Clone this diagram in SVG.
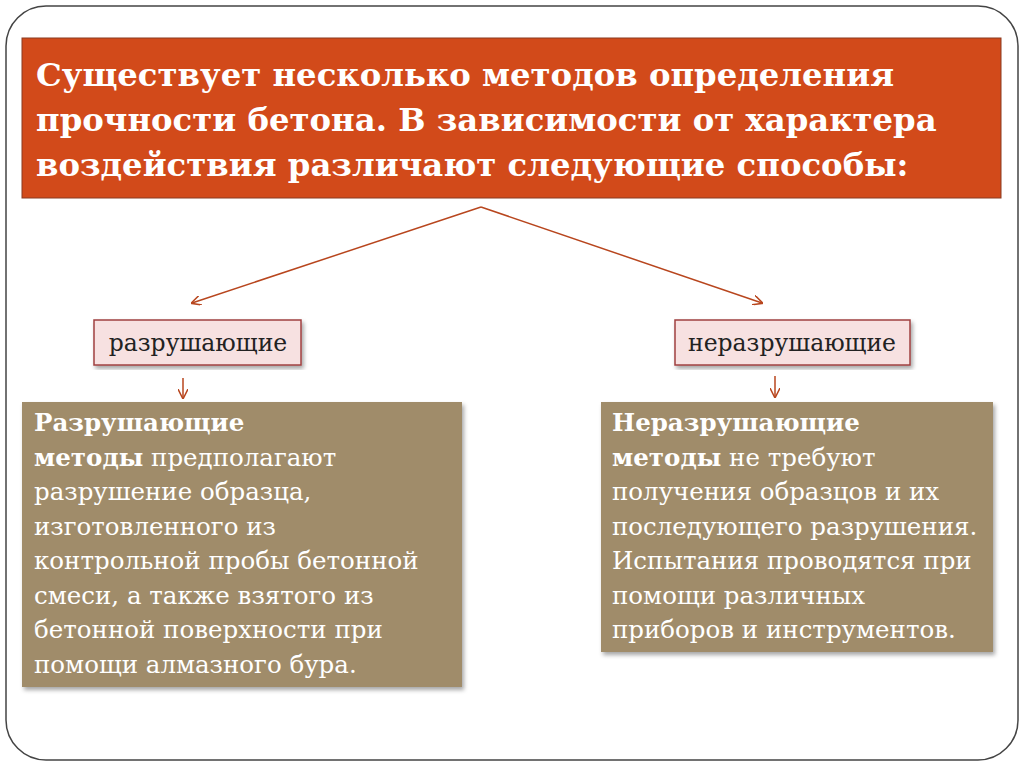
<svg xmlns="http://www.w3.org/2000/svg" width="1024" height="767" viewBox="0 0 1024 767">
<defs>
<style>
.h{font-family:"DejaVu Serif","Liberation Serif",serif;font-weight:bold;fill:#fff;font-size:32.3px}
.lbl{font-family:"DejaVu Serif","Liberation Serif",serif;font-size:23.5px;fill:#222}
.bt{font-family:"DejaVu Serif","Liberation Serif",serif;font-size:24.5px;fill:#fff}
.lb{fill:#f7e1e1;stroke:#a04040;stroke-width:1.5}
.bx{fill:#a08c6a}
.c{stroke:#b8461e;stroke-width:1.5;fill:none}
</style>
<marker id="a" viewBox="0 0 10 10" refX="9" refY="5" markerWidth="10" markerHeight="10" orient="auto" markerUnits="userSpaceOnUse"><path d="M0,0L10,5L0,10" fill="none" stroke="#b8461e" stroke-width="1.5"/></marker>
<filter id="s"><feDropShadow dx="2" dy="3" stdDeviation="2" flood-opacity="0.35"/></filter>
</defs>
<rect width="1024" height="767" fill="#fff"/>
<rect x="6" y="6" width="1012" height="754" rx="40" fill="#fff" stroke="#444" stroke-width="1.5"/>
<g id="header"><rect x="22" y="38" width="979" height="160" fill="#d24a1a" stroke="#8a3a20"/>
<text class="h" x="36" y="86">Существует несколько методов определения</text>
<text class="h" x="36" y="131">прочности бетона. В зависимости от характера</text>
<text class="h" x="36" y="176">воздействия различают следующие способы:</text></g>
<g id="connectors">
<line class="c" x1="481" y1="207" x2="192" y2="303" marker-end="url(#a)"/>
<line class="c" x1="481" y1="207" x2="762" y2="303" marker-end="url(#a)"/>
<line class="c" x1="183" y1="378" x2="183" y2="398" marker-end="url(#a)"/>
<line class="c" x1="775" y1="376" x2="775" y2="397" marker-end="url(#a)"/>
</g>
<g id="n1"><rect class="lb" x="94" y="320" width="207" height="45" filter="url(#s)"/><text class="lbl" x="198" y="351" text-anchor="middle">разрушающие</text></g>
<g id="n2"><rect class="lb" x="675" y="320" width="235" height="45" filter="url(#s)"/><text class="lbl" x="792" y="351" text-anchor="middle">неразрушающие</text></g>
<g id="b1"><rect class="bx" x="22" y="402" width="440" height="285" filter="url(#s)"/>
<text class="bt" x="34" y="431"><tspan font-weight="bold">Разрушающие</tspan><tspan x="34" dy="34.5"><tspan font-weight="bold">методы</tspan> предполагают</tspan><tspan x="34" dy="34.5">разрушение образца,</tspan><tspan x="34" dy="34.5">изготовленного из</tspan><tspan x="34" dy="34.5">контрольной пробы бетонной</tspan><tspan x="34" dy="34.5">смеси, а также взятого из</tspan><tspan x="34" dy="34.5">бетонной поверхности при</tspan><tspan x="34" dy="34.5">помощи алмазного бура.</tspan></text></g>
<g id="b2"><rect class="bx" x="601" y="402" width="392" height="250" filter="url(#s)"/>
<text class="bt" x="612" y="431"><tspan font-weight="bold">Неразрушающие</tspan><tspan x="612" dy="34.5"><tspan font-weight="bold">методы</tspan> не требуют</tspan><tspan x="612" dy="34.5">получения образцов и их</tspan><tspan x="612" dy="34.5">последующего разрушения.</tspan><tspan x="612" dy="34.5">Испытания проводятся при</tspan><tspan x="612" dy="34.5">помощи различных</tspan><tspan x="612" dy="34.5">приборов и инструментов.</tspan></text></g>
</svg>
